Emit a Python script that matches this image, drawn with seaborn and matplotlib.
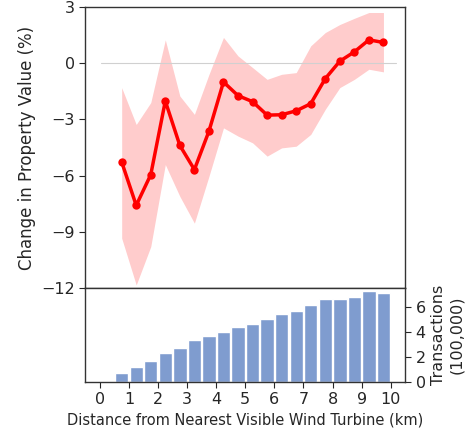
import numpy as np
import matplotlib
matplotlib.use("Agg")
import matplotlib.pyplot as plt
import seaborn as sns

distance = [0.75 + 0.5 * i for i in range(19)]
change = [-5.27, -7.59, -5.95, -2.02, -4.39, -5.68, -3.63, -1.0, -1.73, -2.05,
          -2.77, -2.75, -2.54, -2.16, -0.82, 0.11, 0.61, 1.25, 1.11]
upper = [-1.3, -3.27, -2.1, 1.25, -1.75, -2.73, -0.6, 1.38, 0.39, -0.23,
         -0.86, -0.59, -0.5, 0.93, 1.64, 2.07, 2.4, 2.71, 2.71]
lower = [-9.34, -11.84, -9.79, -5.41, -7.11, -8.54, -6.04, -3.45, -3.89, -4.25,
         -4.96, -4.52, -4.43, -3.8, -2.46, -1.3, -0.86, -0.32, -0.46]
transactions = [0.68, 1.22, 1.69, 2.28, 2.74, 3.34, 3.64, 3.99, 4.4, 4.59,
                5.03, 5.41, 5.68, 6.11, 6.63, 6.63, 6.77, 7.26, 7.12]

sns.set_style("white")
plt.rcParams['font.family'] = ['DejaVu Sans']
fig = plt.figure(figsize=(4.74, 4.43), dpi=100)
ax1 = fig.add_axes([0.18, 0.35, 0.675, 0.634])
ax2 = fig.add_axes([0.18, 0.138, 0.675, 0.212])

ax1.fill_between(distance, lower, upper, color="#ffcccc", lw=0)
ax1.axhline(0, xmin=0.05, xmax=0.97, color="#d0d0d0", lw=0.8)
sns.lineplot(x=distance, y=change, ax=ax1, color="red", lw=2.5, marker="o",
             markersize=6, markeredgewidth=0)
ax1.set_xlim(-0.5, 10.5)
ax1.set_ylim(-12, 3)
ax1.set_yticks([3, 0, -3, -6, -9, -12])
ax1.set_yticklabels(["3", "0", "\u22123", "\u22126", "\u22129", "\u221212"])
ax1.set_xticks([])
ax1.set_ylabel("Change in Property Value (%)", fontsize=12)
ax1.tick_params(axis='y', labelsize=11.5, length=4, left=True)

ax2.bar(distance, transactions, width=0.46, color="#7f9ccf")
ax2.set_xlim(-0.5, 10.5)
ax2.set_ylim(0, 7.5)
ax2.set_xticks(range(11))
ax2.set_yticks([0, 2, 4, 6])
ax2.yaxis.tick_right()
ax2.yaxis.set_label_position("right")
ax2.set_ylabel("Transactions\n(100,000)", fontsize=11.5)
ax2.set_xlabel("Distance from Nearest Visible Wind Turbine (km)", fontsize=10.5)
ax2.tick_params(axis='both', labelsize=11.5, length=4, bottom=True, right=True, left=False)
for ax in (ax1, ax2):
    for s in ax.spines.values():
        s.set_color("#333333")
        s.set_linewidth(1)

fig.savefig("out.png", dpi=100)
